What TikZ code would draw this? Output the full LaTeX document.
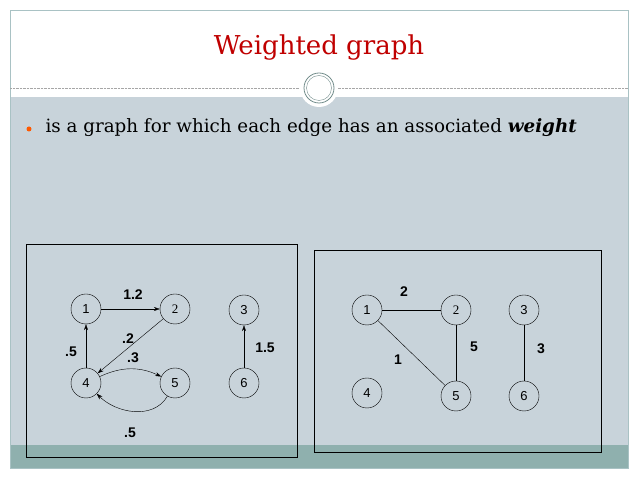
\documentclass[tikz,border=0pt]{standalone}
\usepackage{fontspec}
\setmainfont{DejaVu Serif}
\setsansfont{Liberation Sans}
\newfontfamily\twofont{Liberation Serif}
\usetikzlibrary{arrows.meta}
\definecolor{bg}{HTML}{C8D3DA}
\definecolor{strip}{HTML}{8FB0AE}
\definecolor{frame}{HTML}{A9C2C4}
\definecolor{ttl}{HTML}{C00000}
\begin{document}
\begin{tikzpicture}[x=1pt,y=-1pt,
  vert/.style={circle,draw,thin,minimum size=30pt,inner sep=0pt,font=\sffamily\fontsize{13}{13}\selectfont},
  vtwo/.style={vert,font=\twofont\fontsize{13}{13}\selectfont},
  wt/.style={font=\sffamily\bfseries\fontsize{14}{14}\selectfont},
  arr/.style={-{Stealth[length=6pt,width=4pt]},thin},
  edge/.style={thin}]
\useasboundingbox (0,0) rectangle (638,478);
\fill[white] (0,0) rectangle (638,478);
\fill[bg] (10,97) rectangle (628,445);
\fill[strip] (10,445) rectangle (628,468);
\draw[frame] (10,10) rectangle (628,468);
\draw[gray!70,densely dotted] (10,88) -- (628,88);
\fill[white] (319,88) circle (19);
\draw[strip!80!black,thick] (319,88) circle (15);
\draw[strip!80!black] (319,88) circle (12.5);
\node[ttl,font=\fontsize{26}{26}\selectfont] (title) at (319,48) {Weighted graph};
\fill[orange!70!red] (29,129) circle (2.5);
\node[anchor=west,font=\fontsize{18.3}{18.3}\selectfont] (bul) at (42,128) {is a graph for which each edge has an associated \textbf{\textit{weight}}};
% left
\draw (26,244) rectangle (297,457);
\node[vert] (a1) at (86,309) {1};
\node[vtwo] (a2) at (175,309) {2};
\node[vert] (a3) at (244,310) {3};
\node[vert] (a4) at (86,383) {4};
\node[vert] (a5) at (175,383) {5};
\node[vert] (a6) at (244,383) {6};
\draw[arr] (a1) -- (a2);
\draw[arr] (a2) -- (a4);
\draw[arr] (a4) -- (a1);
\draw[arr] (a6) -- (a3);
\draw[arr] (a4) to[out=25,in=155] (a5);
\draw[arr] (a5) to[out=-120,in=-45] (a4);
\node[wt] (l12) at (133,295) {1.2};
\node[wt] (l2) at (128,339) {.2};
\node[wt] (l3) at (133,358) {.3};
\node[wt] (l5) at (71,352) {.5};
\node[wt] (l15) at (265,348) {1.5};
\node[wt] (l5b) at (130,433) {.5};
% right
\draw (314,250) rectangle (601,452);
\node[vert] (b1) at (367,310) {1};
\node[vtwo] (b2) at (456,310) {2};
\node[vert] (b3) at (524,310) {3};
\node[vert] (b4) at (367,393) {4};
\node[vert] (b5) at (456,396) {5};
\node[vert] (b6) at (524,396) {6};
\draw[edge] (b1) -- (b2);
\draw[edge] (b1) -- (b5);
\draw[edge] (b2) -- (b5);
\draw[edge] (b3) -- (b6);
\node[wt] (r2) at (404,292) {2};
\node[wt] (r5) at (474,347) {5};
\node[wt] (r3) at (541,349) {3};
\node[wt] (r1) at (398,360) {1};
\end{tikzpicture}
\end{document}
